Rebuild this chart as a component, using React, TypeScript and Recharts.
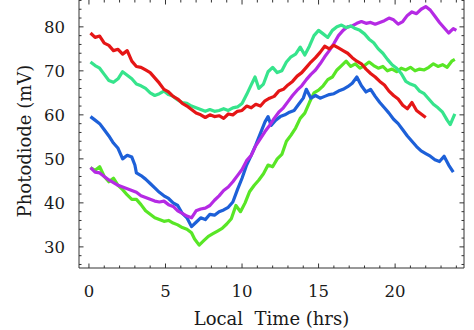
import { LineChart, Line, XAxis, YAxis, ReferenceLine } from 'recharts';

// photodiode traces, [hour, mV]
const redTrace: number[][] = [
  [0.1, 78.6], [0.4, 77.6], [0.7, 77.9], [1.0, 76.3], [1.3, 75.8], [1.6, 74.6], [1.9, 74.9], [2.2, 73.8],
  [2.5, 74.6], [2.8, 72.2], [3.1, 71.0], [3.4, 70.8], [3.7, 70.2], [4.0, 69.6], [4.3, 68.4], [4.6, 67.2],
  [4.9, 65.8], [5.2, 65.2], [5.5, 64.2], [5.8, 63.6], [6.1, 62.6], [6.4, 62.0], [6.7, 61.2], [7.0, 60.4],
  [7.3, 60.0], [7.6, 59.4], [7.9, 60.0], [8.2, 59.6], [8.5, 59.8], [8.8, 59.2], [9.1, 60.2], [9.4, 60.0],
  [9.7, 60.8], [10.0, 61.0], [10.3, 62.0], [10.6, 61.6], [10.9, 62.4], [11.2, 62.0], [11.5, 63.2], [11.8, 63.8],
  [12.1, 64.2], [12.4, 65.4], [12.7, 65.8], [13.0, 66.8], [13.3, 67.6], [13.6, 68.8], [13.9, 69.6], [14.2, 70.8],
  [14.5, 72.0], [14.8, 73.0], [15.1, 74.2], [15.4, 75.6], [15.7, 75.0], [16.0, 75.8], [16.3, 75.2], [16.6, 74.6],
  [16.9, 74.0], [17.2, 73.0], [17.5, 72.2], [17.8, 71.6], [18.1, 70.4], [18.4, 69.4], [18.7, 68.6], [19.0, 67.6],
  [19.3, 66.8], [19.6, 65.4], [19.9, 64.4], [20.2, 63.6], [20.5, 62.2], [20.8, 61.4], [21.1, 62.8], [21.4, 61.0],
  [21.7, 60.2], [22.0, 59.4],
];

const mintTrace: number[][] = [
  [0.1, 72.0], [0.4, 71.2], [0.7, 70.6], [1.0, 69.2], [1.3, 67.8], [1.6, 67.4], [1.9, 68.2], [2.2, 69.8],
  [2.5, 69.0], [2.8, 68.2], [3.1, 67.0], [3.4, 66.6], [3.7, 66.0], [4.0, 65.0], [4.3, 64.4], [4.6, 64.8],
  [4.9, 65.4], [5.2, 64.6], [5.5, 64.2], [5.8, 63.4], [6.1, 62.8], [6.4, 62.6], [6.7, 62.0], [7.0, 61.6],
  [7.3, 61.2], [7.6, 60.8], [7.9, 61.2], [8.2, 60.8], [8.5, 61.0], [8.8, 61.4], [9.1, 61.0], [9.4, 61.6],
  [9.7, 61.8], [10.0, 62.6], [10.3, 64.6], [10.6, 66.8], [10.85, 68.6], [11.1, 66.0], [11.4, 67.0], [11.7, 69.8],
  [12.0, 70.8], [12.3, 69.6], [12.6, 70.0], [12.9, 72.0], [13.2, 73.2], [13.5, 73.8], [13.8, 75.4], [14.1, 73.6],
  [14.4, 75.6], [14.7, 78.0], [15.0, 79.2], [15.3, 78.4], [15.6, 77.6], [15.9, 79.2], [16.2, 80.0], [16.5, 80.4],
  [16.8, 79.8], [17.1, 80.2], [17.4, 79.6], [17.7, 79.2], [18.0, 78.4], [18.3, 77.2], [18.6, 76.4], [18.9, 75.0],
  [19.2, 74.0], [19.5, 72.6], [19.8, 71.4], [20.1, 70.6], [20.4, 69.4], [20.7, 67.6], [21.0, 67.0], [21.3, 66.6],
  [21.6, 65.4], [21.9, 64.8], [22.2, 63.6], [22.5, 62.4], [22.8, 61.6], [23.1, 60.6], [23.4, 58.8], [23.6, 57.8],
  [23.9, 60.2],
];

const purpleTrace: number[][] = [
  [0.1, 48.0], [0.4, 47.0], [0.7, 46.8], [1.0, 46.0], [1.3, 45.2], [1.6, 44.6], [1.9, 44.0], [2.2, 43.6],
  [2.5, 43.2], [2.8, 42.8], [3.1, 42.4], [3.4, 41.6], [3.7, 41.2], [4.0, 40.8], [4.3, 40.4], [4.6, 40.2],
  [4.9, 40.4], [5.2, 39.6], [5.5, 39.2], [5.8, 38.2], [6.1, 37.6], [6.4, 37.0], [6.7, 36.6], [7.0, 38.2],
  [7.3, 38.6], [7.6, 38.8], [7.9, 39.4], [8.2, 40.6], [8.5, 41.6], [8.8, 42.8], [9.1, 43.6], [9.4, 44.8],
  [9.7, 46.2], [10.0, 47.6], [10.3, 49.6], [10.6, 50.8], [10.9, 53.0], [11.2, 54.6], [11.5, 56.2], [11.8, 57.6],
  [12.1, 59.2], [12.4, 60.6], [12.7, 61.6], [13.0, 63.0], [13.3, 64.4], [13.6, 65.6], [13.9, 66.6], [14.2, 68.0],
  [14.5, 69.2], [14.8, 70.2], [15.1, 71.6], [15.4, 73.2], [15.7, 74.6], [16.0, 76.2], [16.3, 78.0], [16.6, 79.2],
  [16.9, 80.0], [17.2, 80.2], [17.5, 80.8], [17.8, 81.2], [18.1, 80.8], [18.4, 81.0], [18.7, 80.6], [19.0, 81.0],
  [19.3, 81.4], [19.6, 82.0], [19.9, 81.6], [20.2, 80.6], [20.5, 81.2], [20.8, 82.6], [21.1, 83.4], [21.4, 83.0],
  [21.7, 84.0], [22.0, 84.6], [22.3, 83.8], [22.6, 82.4], [22.9, 81.0], [23.2, 79.8], [23.5, 78.6], [23.8, 79.6],
  [24.0, 79.2],
];

const blueTrace: number[][] = [
  [0.1, 59.6], [0.4, 58.8], [0.7, 58.0], [1.0, 56.6], [1.3, 55.2], [1.6, 53.6], [1.9, 52.4], [2.2, 50.0],
  [2.5, 50.8], [2.8, 50.4], [3.0, 48.6], [3.1, 46.8], [3.4, 46.2], [3.7, 45.4], [4.0, 44.4], [4.3, 43.4],
  [4.6, 42.4], [4.9, 41.6], [5.2, 41.0], [5.5, 40.0], [5.8, 39.4], [6.1, 37.6], [6.4, 36.6], [6.7, 34.6],
  [7.0, 35.6], [7.3, 36.6], [7.6, 36.2], [7.9, 37.4], [8.2, 37.2], [8.5, 38.0], [8.8, 38.4], [9.1, 39.0],
  [9.4, 40.2], [9.7, 43.0], [10.0, 45.6], [10.3, 48.6], [10.6, 50.8], [10.9, 53.2], [11.2, 55.8], [11.5, 58.4],
  [11.7, 59.6], [11.9, 57.6], [12.2, 58.8], [12.5, 59.6], [12.8, 60.0], [13.1, 60.6], [13.4, 61.0], [13.7, 62.4],
  [14.0, 63.8], [14.2, 65.8], [14.5, 63.8], [14.8, 64.4], [15.1, 63.8], [15.4, 64.2], [15.7, 64.6], [16.0, 64.8],
  [16.3, 65.4], [16.6, 65.8], [16.9, 66.4], [17.2, 67.2], [17.5, 68.6], [17.8, 66.6], [18.1, 65.2], [18.4, 65.8],
  [18.7, 64.2], [19.0, 62.8], [19.3, 61.6], [19.6, 60.4], [19.9, 59.0], [20.2, 58.0], [20.5, 56.6], [20.8, 55.2],
  [21.1, 54.0], [21.4, 52.8], [21.7, 51.8], [22.0, 51.2], [22.3, 50.6], [22.6, 49.8], [22.9, 49.4], [23.2, 50.6],
  [23.5, 48.6], [23.8, 47.0],
];

const limeTrace: number[][] = [
  [0.1, 48.0], [0.4, 47.4], [0.7, 48.2], [1.0, 46.0], [1.3, 44.8], [1.6, 45.6], [1.9, 44.0], [2.2, 43.0],
  [2.5, 41.8], [2.8, 40.8], [3.1, 40.8], [3.4, 39.6], [3.7, 38.2], [4.0, 37.4], [4.3, 36.6], [4.6, 36.2],
  [4.9, 35.8], [5.2, 36.0], [5.5, 35.4], [5.8, 35.0], [6.1, 34.4], [6.4, 34.0], [6.7, 33.2], [6.9, 31.8],
  [7.2, 30.4], [7.5, 31.4], [7.8, 32.4], [8.1, 33.0], [8.4, 33.6], [8.7, 34.2], [9.0, 35.2], [9.3, 36.4],
  [9.6, 39.4], [9.9, 38.0], [10.2, 40.0], [10.5, 42.6], [10.8, 44.0], [11.1, 45.2], [11.4, 46.6], [11.7, 48.6],
  [12.0, 48.2], [12.3, 50.0], [12.6, 51.0], [12.9, 54.0], [13.2, 55.4], [13.5, 57.0], [13.8, 59.2], [14.1, 60.4],
  [14.4, 62.8], [14.7, 65.0], [15.0, 65.6], [15.3, 66.6], [15.6, 68.0], [15.9, 68.6], [16.2, 70.2], [16.5, 71.2],
  [16.8, 72.2], [17.1, 71.0], [17.4, 71.6], [17.7, 70.6], [18.0, 71.2], [18.3, 72.0], [18.6, 71.2], [18.9, 70.6],
  [19.2, 71.0], [19.5, 70.0], [19.8, 70.4], [20.1, 69.8], [20.4, 70.6], [20.7, 70.2], [21.0, 70.8], [21.3, 70.0],
  [21.6, 70.4], [21.9, 70.2], [22.2, 70.8], [22.5, 71.6], [22.8, 71.0], [23.1, 71.4], [23.4, 70.8], [23.7, 72.2],
  [23.9, 72.6],
];

// every integer hour gets a tick, every 5th one a label
const xTicks = [0, 1, 2, 3, 4, 5, 6, 7, 8, 9, 10, 11, 12, 13, 14, 15, 16, 17, 18, 19, 20, 21, 22, 23, 24];
// every 2 mV gets a tick, every 10 mV a label
const yTicks = [26, 28, 30, 32, 34, 36, 38, 40, 42, 44, 46, 48, 50, 52, 54, 56, 58, 60, 62, 64, 66, 68, 70, 72, 74, 76, 78, 80, 82, 84, 86];

const X_DOMAIN = [-0.65, 24.5];
const Y_DOMAIN = [25.2, 86.1];

const CHART_W = 474;
const CHART_H = 330;
const MARGIN = { top: 0, right: 10, bottom: 2, left: 29 };
const PLOT_TOP = MARGIN.top;
const PLOT_RIGHT = CHART_W - MARGIN.right;
const X_TICK_MARGIN = 17;
const Y_TICK_MARGIN = 14;

const FONT = "'DejaVu Serif', serif";
const INK = '#1a1a1a';
const FRAME = '#333';

const toPoints = (trace: number[][]) => trace.map(([t, v]) => ({ t, v }));

const series = [
  { name: 'lime', trace: limeTrace, color: '#58e626' },
  { name: 'blue', trace: blueTrace, color: '#1d60d8' },
  { name: 'purple', trace: purpleTrace, color: '#b52ae4' },
  { name: 'mint', trace: mintTrace, color: '#36e48c' },
  { name: 'red', trace: redTrace, color: '#e51616' },
];

// bottom tick: inward mark at the bottom and mirrored at the top, label on majors
function XTick(props: any) {
  const { x, y, payload } = props;
  const axisY = y - X_TICK_MARGIN;
  const major = payload.value % 5 === 0;
  const len = major ? 4.5 : 2.5;
  return (
    <g>
      <line x1={x} x2={x} y1={axisY} y2={axisY - len} stroke={FRAME} />
      <line x1={x} x2={x} y1={PLOT_TOP} y2={PLOT_TOP + len} stroke={FRAME} />
      {major && payload.value <= 20 && (
        <text x={x} y={y} dy="0.71em" textAnchor="middle" fill={INK} fontFamily={FONT} fontSize={16.5}>
          {payload.value}
        </text>
      )}
    </g>
  );
}

// left tick: inward mark on the left and mirrored on the right, label on majors
function YTick(props: any) {
  const { x, y, payload } = props;
  const axisX = x + Y_TICK_MARGIN;
  const major = payload.value % 10 === 0;
  const len = major ? 4.5 : 2.5;
  return (
    <g>
      <line x1={axisX} x2={axisX + len} y1={y} y2={y} stroke={FRAME} />
      <line x1={PLOT_RIGHT} x2={PLOT_RIGHT - len} y1={y} y2={y} stroke={FRAME} />
      {major && (
        <text x={x} y={y} dy="0.355em" textAnchor="end" fill={INK} fontFamily={FONT} fontSize={16.5}>
          {payload.value}
        </text>
      )}
    </g>
  );
}

function YTitle(props: any) {
  const { viewBox } = props;
  const x = viewBox.x + 2;
  const y = viewBox.y + viewBox.height / 2 + 7;
  return (
    <text x={x} y={y} transform={`rotate(-90, ${x}, ${y})`} textAnchor="middle" fill={INK} fontFamily={FONT} fontSize={18}>
      Photodiode (mV)
    </text>
  );
}

export default function App() {
  return (
    <div style={{ position: 'absolute', left: 0, top: 0, background: '#fff' }}>
      <LineChart width={CHART_W} height={CHART_H} margin={MARGIN}>
        <XAxis
          xAxisId="x"
          type="number"
          dataKey="t"
          domain={X_DOMAIN}
          allowDataOverflow
          ticks={xTicks}
          interval={0}
          height={60}
          tickLine={false}
          tickSize={0}
          tickMargin={X_TICK_MARGIN}
          axisLine={{ stroke: FRAME }}
          tick={XTick}
          label={{ value: 'Local\u00A0 Time (hrs)', position: 'insideBottom', offset: 3, fill: INK, fontFamily: FONT, fontSize: 18 }}
        />
        <YAxis
          yAxisId="y"
          type="number"
          domain={Y_DOMAIN}
          allowDataOverflow
          ticks={yTicks}
          interval={0}
          width={50}
          tickLine={false}
          tickSize={0}
          tickMargin={Y_TICK_MARGIN}
          axisLine={{ stroke: FRAME }}
          tick={YTick}
          label={YTitle}
        />

        {/* right-hand frame line */}
        <ReferenceLine xAxisId="x" yAxisId="y" x={X_DOMAIN[1]} stroke={FRAME} ifOverflow="visible" />

        {series.map((s) => (
          <Line
            key={s.name}
            xAxisId="x"
            yAxisId="y"
            data={toPoints(s.trace)}
            dataKey="v"
            type="linear"
            stroke={s.color}
            strokeWidth={3.2}
            strokeLinejoin="round"
            dot={false}
            activeDot={false}
            isAnimationActive={false}
          />
        ))}
      </LineChart>
    </div>
  );
}
